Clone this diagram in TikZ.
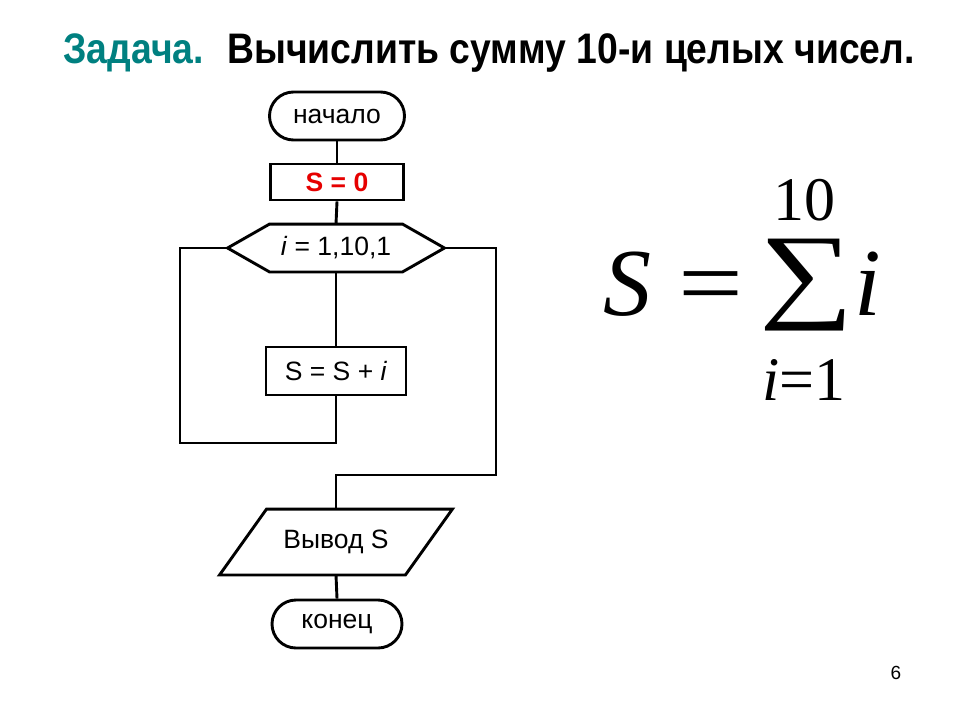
\documentclass[tikz,border=0pt]{standalone}
\usepackage{fontspec}
\setmainfont{Liberation Sans}
\newfontfamily\titlefont[FakeStretch=0.874]{Liberation Sans}
\newfontfamily\formfont{Liberation Serif}
\usetikzlibrary{calc}
\definecolor{titleteal}{RGB}{0,128,128}
\definecolor{redtext}{RGB}{230,0,0}
\begin{document}
\begin{tikzpicture}[x=1pt,y=-1pt, line width=2.9pt,
  every node/.style={font=\fontsize{26.5}{30}\selectfont, inner sep=0pt},
  term/.style={draw, rounded corners=24pt, minimum width=#1, minimum height=48pt},
  procbox/.style={draw, minimum width=#1},
  holder/.style={minimum width=#1},
  titletext/.style={anchor=base west, font=\titlefont\bfseries\fontsize{42.7}{48}\selectfont},
  formtext/.style={font=\formfont\fontsize{96}{100}\selectfont},
  smallform/.style={font=\formfont\fontsize{62}{66}\selectfont}]
\useasboundingbox (0,0) rectangle (960,720);
% title
\node[titletext, text=titleteal] (t1) at (62,63) {Задача.};
\node[titletext] (t2) at (226,63) {Вычислить сумму 10-и целых чисел.};
% flowchart
\node[term=135pt] (start) at (337,116) {начало};
\node[procbox=133pt, minimum height=36pt, text=redtext, font=\bfseries\fontsize{26.5}{30}\selectfont] (s0) at (337,182) {S = 0};
\node[holder=214pt, minimum height=45pt] (hx) at (336,248) {\textit{i} = 1,10,1};
\draw (hx.west) -- ($(hx.north west)+(42,0)$) -- ($(hx.north east)+(-42,0)$) -- (hx.east)
      -- ($(hx.south east)+(-42,0)$) -- ($(hx.south west)+(42,0)$) -- cycle;
\node[procbox=140pt, minimum height=48pt] (body) at (336,371) {S = S + \textit{i}};
\node[holder=230pt, minimum height=63pt] (out) at (336,542) {Вывод S};
\draw (out.south west) -- ($(out.north west)+(47,0)$) -- (out.north east)
      -- ($(out.south east)+(-47,0)$) -- cycle;
\node[term=130pt] (end) at (337,624) {конец};
\coordinate (c1) at (180,443);
\coordinate (c2) at (496,475);
\draw (start.south) -- (s0.north);
\draw (s0.south) -- (hx.north);
\draw (hx.south) -- (body.north);
\draw (body.south) |- (c1) |- (hx.west);
\draw (hx.east) -| (c2) -| (out.north);
\draw (out.south) -- (end.north);
% formula
\node[formtext, anchor=base west] (fS) at (602,315) {\itshape S};
\node[formtext, anchor=base west, xscale=1.2] (feq) at (677,315) {=};
\node[formtext, anchor=center, font=\formfont\fontsize{106}{110}\selectfont, xscale=1.25] (fsum) at (807,285) {∑};
\node[formtext, anchor=base west] (fi) at (853,315) {\itshape i};
\node[smallform, anchor=base] (ftop) at (804,220) {10};
\node[smallform, anchor=base] (fbot) at (804,400) {\itshape i\upshape =1};
% page number
\node[font=\fontsize{19}{22}\selectfont] (pg) at (896,673) {6};
\end{tikzpicture}
\end{document}
